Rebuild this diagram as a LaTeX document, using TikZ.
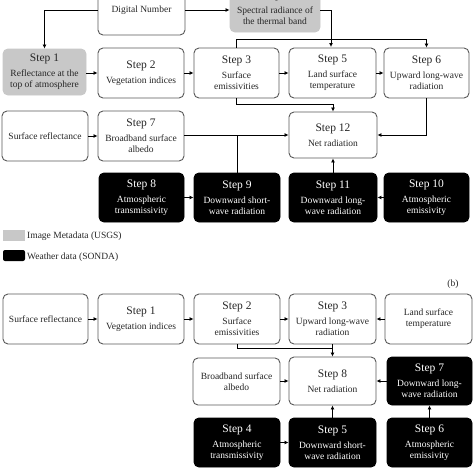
\documentclass[tikz,border=0pt]{standalone}
\usepackage{fontspec}
\setmainfont{Liberation Serif}
\usetikzlibrary{arrows.meta}
\newcommand\bodyf{\fontsize{9.5}{11}\selectfont}
\newcommand\ttl[1]{{\fontsize{11.5}{12}\selectfont #1}\\[4pt]}
\definecolor{metagray}{HTML}{C8C8C8}
\tikzset{
  box/.style={draw=black!65, line width=0.9pt, rounded corners=5pt, inner sep=0pt,
    align=center, font=\bodyf, text=black!85, minimum width=86pt, minimum height=50pt},
  meta/.style={box, fill=metagray, draw=metagray},
  wx/.style={box, fill=black, draw=black, text=white},
  arr/.style={-{Latex[length=4pt,width=4pt]}, line width=0.8pt, black},
  ln/.style={line width=0.8pt, black},
  lbl/.style={font=\bodyf, text=black!85, inner sep=0pt, anchor=west}
}
\begin{document}
\begin{tikzpicture}[x=1pt,y=-1pt]
\clip (0,0) rectangle (474,474);
\fill[white] (0,0) rectangle (474,474);
% ---------------- (a) ----------------
\node[lbl, anchor=center] (la) at (453,-4) {(a)};
\node[box, minimum width=87pt] (dn) at (141.5,10) {Digital Number};
\node[meta, minimum width=90pt, minimum height=48pt] (s4) at (275,8) {\ttl{Step 4}Spectral radiance of\\the thermal band};
\node[meta, minimum width=83pt, minimum height=46pt] (s1) at (44.5,72) {\ttl{Step 1}Reflectance at the\\top of atmosphere};
\node[box] (s2) at (141,73) {\ttl{Step 2}Vegetation indices};
\node[box, minimum width=85pt] (s3) at (236.5,73) {\ttl{Step 3}Surface\\emissivities};
\node[box, minimum width=87pt] (s5) at (332.5,73) {\ttl{Step 5}Land surface\\temperature};
\node[box, minimum width=85pt] (s6) at (426.5,73) {\ttl{Step 6}Upward long-wave\\radiation};
\node[box] (srf) at (45,136) {Surface reflectance};
\node[box] (s7) at (141,136) {\ttl{Step 7}Broadband surface\\albedo};
\node[box, minimum width=88pt, minimum height=46pt] (s12) at (333,135) {\ttl{Step 12}Net radiation};
\node[wx, minimum width=85pt, minimum height=49pt] (s8) at (141.5,197.5) {\ttl{Step 8}Atmospheric\\transmissivity};
\node[wx, minimum height=49pt] (s9) at (237,197.5) {\ttl{Step 9}Downward short-\\wave radiation};
\node[wx, minimum width=88pt, minimum height=49pt] (s11) at (333,197.5) {\ttl{Step 11}Downward long-\\wave radiation};
\node[wx, minimum width=85pt, minimum height=49pt] (s10) at (426.5,197.5) {\ttl{Step 10}Atmospheric\\emissivity};
% connectors (a)
\draw[arr] (dn.west) -| (s1.north);
\draw[arr] (dn.east) -- (dn.east -| s4.west);
\draw[arr] (s4.east |- dn.east) -| (331,47);
\draw[arr] (s1.east |- s2) -- (s2.west);
\draw[arr] (s2.east) -- (s3.west);
\draw[arr] (s3.east) -- (s5.west);
\draw[arr] (s5.east) -- (s6.west);
\draw[arr] (s3.north) -- (s3.north |- 0,39) -| (s6.north);
\draw[arr] (s3.south) -- (s3.south |- 0,104) -| (s12.north);
\draw[arr] (s7.east |- s12.west) -- (s12.west);
\draw[ln] (s9.north) -- (s9.north |- s12.west);
\draw[arr] (s6.south) |- (s12.east);
\draw[arr] (s11.north) -- (s12.south);
\draw[arr] (s8.east) -- (s9.west);
\draw[arr] (s10.west) -- (s11.east);
\draw[arr] (srf.east) -- (s7.west);
% legend
\node[fill=metagray, minimum width=22pt, minimum height=11pt, inner sep=0pt] (lg1) at (14,235.5) {};
\node[lbl] (lt1) at (27,236) {Image Metadata (USGS)};
\node[fill=black, rounded corners=2pt, minimum width=22pt, minimum height=11pt, inner sep=0pt] (lg2) at (14,255.5) {};
\node[lbl] (lt2) at (27,257.5) {Weather data (SONDA)};
% ---------------- (b) ----------------
\node[lbl, anchor=center] (lb) at (453,284) {(b)};
\node[box, minimum width=85pt] (bsr) at (45.5,319) {Surface reflectance};
\node[box] (b1) at (141,319) {\ttl{Step 1}Vegetation indices};
\node[box] (b2) at (237,319) {\ttl{Step 2}Surface\\emissivities};
\node[box, minimum width=87pt] (b3) at (332.5,319) {\ttl{Step 3}Upward long-wave\\radiation};
\node[box, minimum width=87pt] (blst) at (428.5,319) {Land surface\\temperature};
\node[box, minimum width=87pt, minimum height=47pt] (bba) at (236.5,381.5) {Broadband surface\\albedo};
\node[box, minimum width=87pt, minimum height=48pt] (b8) at (332.5,381) {\ttl{Step 8}Net radiation};
\node[wx, minimum width=85pt, minimum height=48pt] (b7) at (429.5,381) {\ttl{Step 7}Downward long-\\wave radiation};
\node[wx, minimum height=49pt] (b4) at (237,442.5) {\ttl{Step 4}Atmospheric\\transmissivity};
\node[wx, minimum width=87pt, minimum height=49pt] (b5) at (332.5,442.5) {\ttl{Step 5}Downward short-\\wave radiation};
\node[wx, minimum width=85pt, minimum height=49pt] (b6) at (429.5,442.5) {\ttl{Step 6}Atmospheric\\emissivity};
% connectors (b)
\draw[arr] (bsr.east) -- (b1.west);
\draw[arr] (b1.east) -- (b2.west);
\draw[arr] (b2.east) -- (b3.west);
\draw[arr] (blst.west) -- (b3.east);
\draw[ln] (b2.south) -- (b2.south |- 0,348) -| (b3.south);
\draw[arr] (b3.south) -- (b8.north);
\draw[arr] (bba.east |- b8.west) -- (b8.west);
\draw[arr] (b7.west) -- (b8.east);
\draw[arr] (b4.east) -- (b5.west);
\draw[arr] (b5.north) -- (b8.south);
\draw[arr] (b6.north) -- (b7.south);
\end{tikzpicture}
\end{document}
